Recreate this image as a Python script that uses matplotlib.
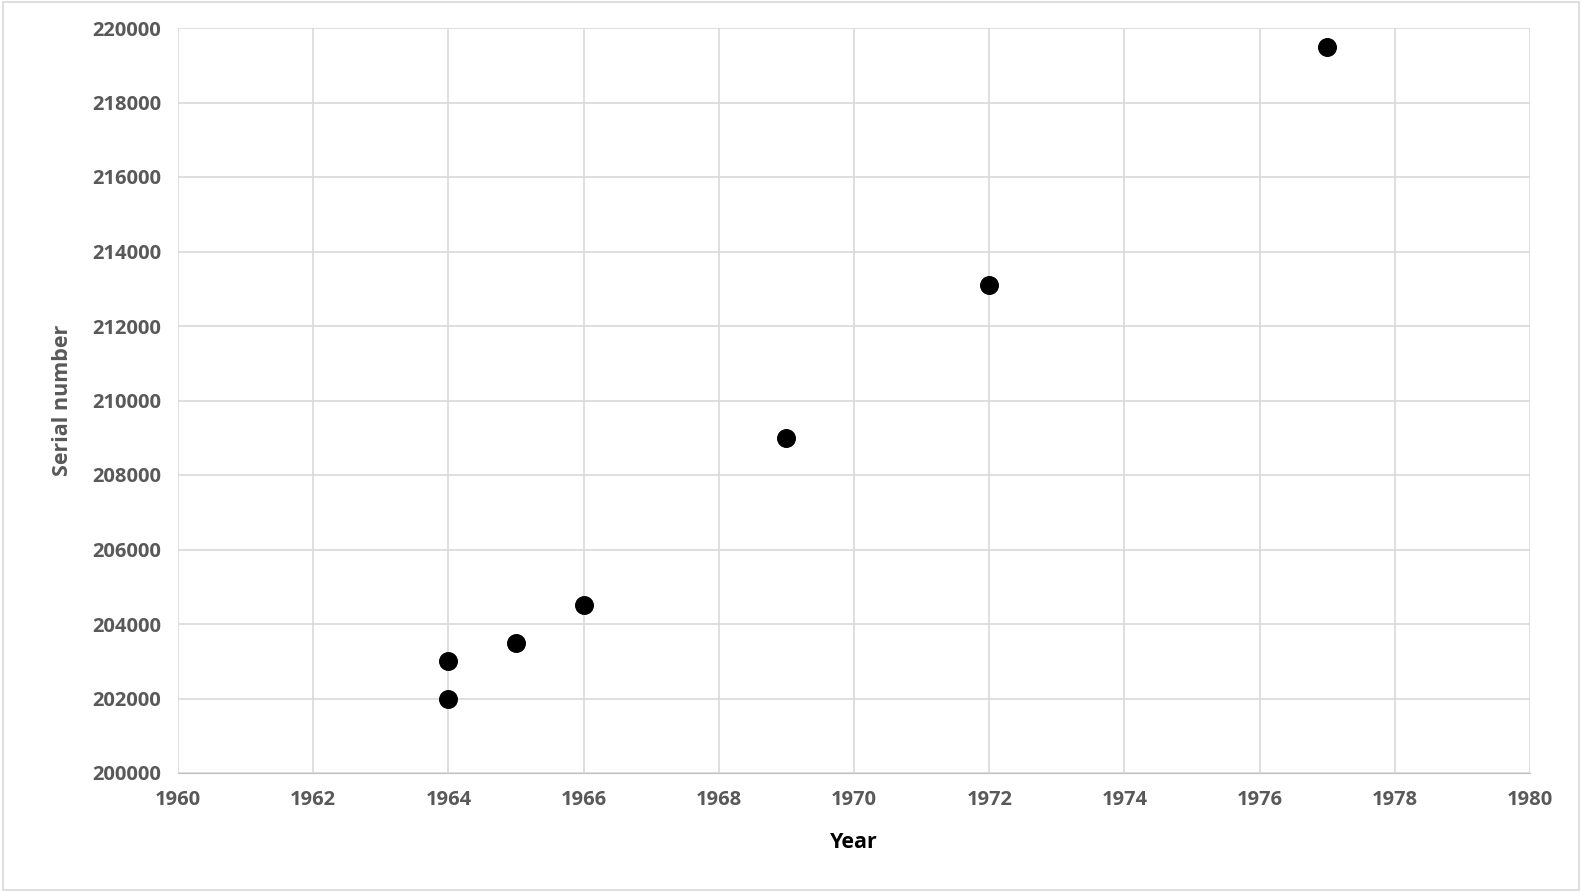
import matplotlib.pyplot as plt
from matplotlib.patches import Rectangle

# Serial number by year
years = [1964, 1964, 1965, 1966, 1969, 1972, 1977]
serials = [202000, 203000, 203500, 204500, 209000, 213100, 219500]

plt.rcParams['font.family'] = ['Open Sans', 'DejaVu Sans']

fig = plt.figure(figsize=(15.82, 8.92), dpi=100)
ax = fig.add_axes([178 / 1582, 1 - 773 / 892, (1530 - 178) / 1582, (773 - 28) / 892])

ax.scatter(years, serials, s=160, color='black', zorder=3)

ax.set_xlim(1960, 1980)
ax.set_ylim(200000, 220000)
ax.set_xticks(range(1960, 1981, 2))
ax.set_yticks(range(200000, 220001, 2000))
ax.grid(True, color='#d9d9d9', linewidth=1.2)
ax.set_axisbelow(True)
for side in ['top', 'right', 'left']:
    ax.spines[side].set_visible(False)
ax.spines['bottom'].set_color('#bfbfbf')
ax.tick_params(length=0, labelsize=14.5, labelcolor='#595959', pad=12)
for lab in ax.get_xticklabels() + ax.get_yticklabels():
    lab.set_fontweight('bold')

ax.set_xlabel('Year', fontsize=15.5, fontweight='bold', color='black', labelpad=16)
ax.set_ylabel('Serial number', fontsize=15.5, fontweight='bold', color='#595959', labelpad=14)

fig.patches.append(Rectangle((0.002, 0.002), 0.996, 0.996, transform=fig.transFigure,
                             fill=False, edgecolor='#d9d9d9', linewidth=1.2))

fig.savefig('out.png', dpi=100)
